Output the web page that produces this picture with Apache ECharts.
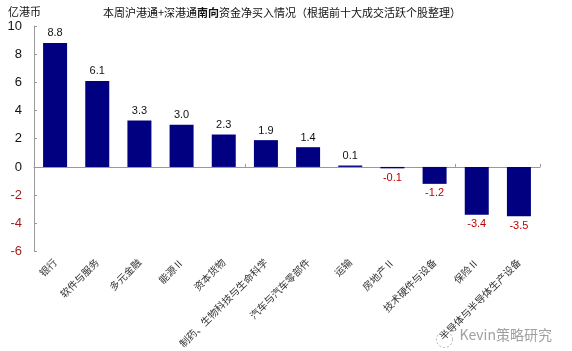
<!DOCTYPE html>
<html>
<head>
<meta charset="utf-8">
<script src="https://cdn.jsdelivr.net/npm/echarts@6/dist/echarts.min.js"></script>
<style>
  html, body { margin: 0; padding: 0; background: #fff; }
  #container { width: 572px; height: 351px; }
</style>
</head>
<body>
<div id="container"></div>
<script>
// 行业名称
var categories = ['银行', '软件与服务', '多元金融', '能源Ⅱ', '资本货物', '制药、生物科技与生命科学',
    '汽车与汽车零部件', '运输', '房地产Ⅱ', '技术硬件与设备', '保险Ⅱ', '半导体与半导体生产设备'];
// 净买入（亿港币）
var netBuy = [8.8, 6.1, 3.3, 3.0, 2.3, 1.9, 1.4, 0.1, -0.1, -1.2, -3.4, -3.5];
var yTicks = [-6, -4, -2, 0, 2, 4, 6, 8, 10];

var dom = document.getElementById('container');
var myChart = echarts.init(dom);
var cjk = '"Noto Sans CJK SC", sans-serif';
var latin = 'Arial, "Liberation Sans", sans-serif';

var option = {
    backgroundColor: '#fff',
    animation: false,
    title: {
        text: '本周沪港通+深港通{b|南向}资金净买入情况（根据前十大成交活跃个股整理）',
        left: 277,
        textAlign: 'center',
        top: 2,
        textStyle: {
            fontFamily: cjk,
            fontSize: 11,
            fontWeight: 'normal',
            color: '#111',
            rich: {
                b: { fontFamily: cjk, fontSize: 11, fontWeight: 'bold', color: '#111' }
            }
        }
    },
    graphic: [
        {
            type: 'text', left: 8, top: 6,
            style: { text: '亿港币', font: '11px ' + cjk, fill: '#111' }
        },
        {
            type: 'circle', left: 434, top: 329,
            shape: { r: 8 },
            style: { fill: 'none', stroke: '#b0b0b0', lineWidth: 1, lineDash: [2, 2] }
        },
        {
            type: 'text', right: 20, top: 328,
            style: { text: 'Kevin策略研究', font: '14px ' + cjk, fill: '#a0a0a0' }
        }
    ],
    grid: { left: 34, right: 32, top: 26, bottom: 98 },
    xAxis: [
        {
            type: 'category',
            data: categories,
            position: 'bottom',
            axisLine: { show: false, onZero: false },
            axisTick: { show: false },
            axisLabel: {
                interval: 0,
                rotate: 45,
                margin: 9,
                fontFamily: cjk,
                fontSize: 10,
                color: '#333'
            }
        },
        {
            type: 'category',
            data: categories,
            position: 'bottom',
            axisLine: { show: true, onZero: true, lineStyle: { color: '#999', width: 1 } },
            axisTick: { show: true, inside: true, length: 3, lineStyle: { color: '#999' } },
            axisLabel: { show: false }
        }
    ],
    yAxis: {
        type: 'value',
        min: yTicks[0],
        max: yTicks[yTicks.length - 1],
        interval: 2,
        axisLine: { show: true, lineStyle: { color: '#999' } },
        axisTick: { show: true, inside: true, length: 3, lineStyle: { color: '#999' } },
        splitLine: { show: false },
        axisLabel: {
            fontFamily: latin,
            fontSize: 13,
            margin: 12,
            color: function(value) {
                return value < 0 ? '#9b1c1c' : '#111';
            }
        }
    },
    series: [{
        type: 'bar',
        xAxisIndex: 0,
        data: netBuy.map(function(v) {
            return {
                value: v,
                label: {
                    position: v < 0 ? 'bottom' : 'top',
                    color: v < 0 ? '#c00000' : '#111'
                }
            };
        }),
        barWidth: 24,
        itemStyle: { color: '#000080' },
        label: {
            show: true,
            fontFamily: latin,
            fontSize: 11,
            distance: 4,
            formatter: function(p) {
                return p.value.toFixed(1);
            }
        }
    }]
};
myChart.setOption(option);
</script>
</body>
</html>
